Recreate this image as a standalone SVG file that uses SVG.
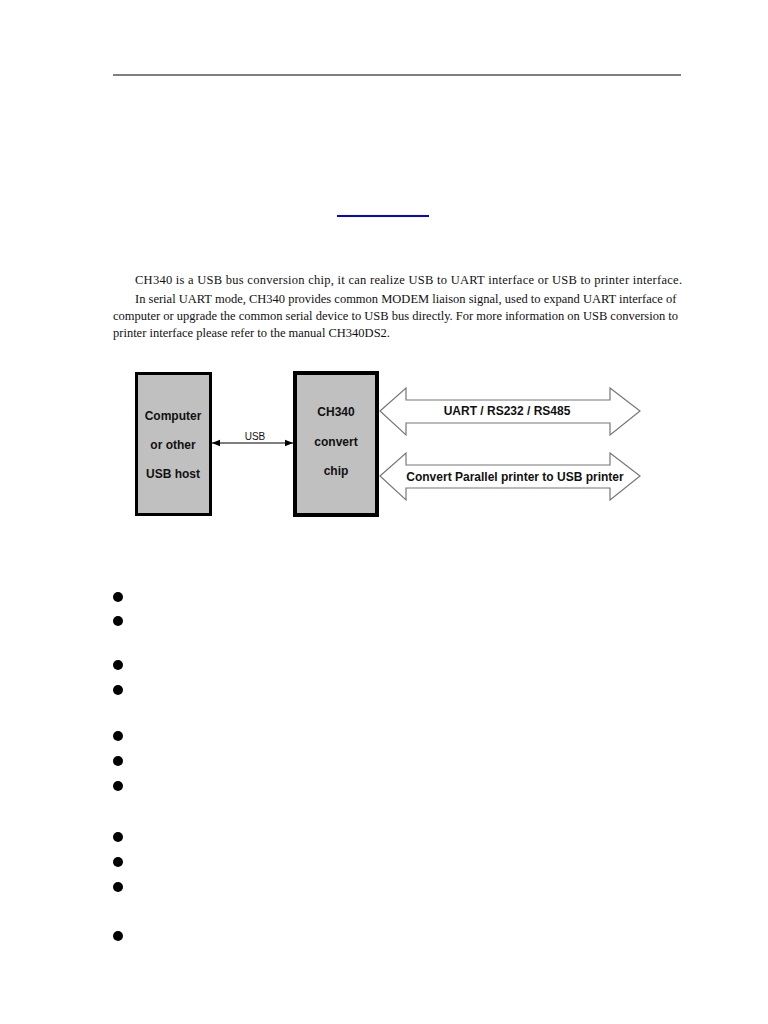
<svg xmlns="http://www.w3.org/2000/svg" width="768" height="1024" viewBox="0 0 768 1024">
<style>
.t{font-family:"Liberation Serif",serif;font-size:12.5px;fill:#111}
.b{font-family:"Liberation Sans",Arial,sans-serif;font-weight:bold;font-size:12px;fill:#111;text-anchor:middle}
.box{fill:#c0c0c0;stroke:#000}
.arr{fill:#fff;stroke:#777;stroke-width:1.2}
</style>
<defs>
<marker id="ah" viewBox="0 0 10 10" refX="10" refY="5" markerWidth="7" markerHeight="7" orient="auto-start-reverse"><path d="M0,1L10,5L0,9z" fill="#000"/></marker>
</defs>
<rect width="768" height="1024" fill="#fff"/>
<line x1="113" y1="75" x2="681" y2="75" stroke="#000" stroke-width="1"/>
<line x1="337" y1="216" x2="429" y2="216" stroke="#00f" stroke-width="2"/>
<text class="t" x="135" y="284" textLength="547" lengthAdjust="spacing">CH340 is a USB bus conversion chip, it can realize USB to UART interface or USB to printer interface.</text>
<text class="t" x="135" y="303">In serial UART mode, CH340 provides common MODEM liaison signal, used to expand UART interface of</text>
<text class="t" x="113" y="320">computer or upgrade the common serial device to USB bus directly. For more information on USB conversion to</text>
<text class="t" x="113" y="337">printer interface please refer to the manual CH340DS2.</text>
<g id="host"><rect class="box" x="136.5" y="373.5" width="74" height="141" stroke-width="3"/>
<text class="b" x="173" y="420">Computer</text><text class="b" x="173" y="449">or other</text><text class="b" x="173" y="478">USB host</text></g>
<g id="chip"><rect class="box" x="295" y="373" width="82" height="142" stroke-width="4"/>
<text class="b" x="336" y="416">CH340</text><text class="b" x="336" y="446">convert</text><text class="b" x="336" y="475">chip</text></g>
<g id="uart"><path class="arr" d="M380,411L406,388L406,400L610,400L610,388L640,411L610,435L610,423L406,423L406,435Z"/>
<text class="b" x="507" y="415">UART / RS232 / RS485</text></g>
<g id="printer"><path class="arr" d="M380,476L406,453L406,465L610,465L610,453L640,476L610,500L610,488L406,488L406,500Z"/>
<text class="b" x="515" y="481">Convert Parallel printer to USB printer</text></g>
<g id="connectors"><line x1="212" y1="443" x2="293" y2="443" stroke="#000" stroke-width="1.2" marker-start="url(#ah)" marker-end="url(#ah)"/>
<text x="255" y="440" font-family="Liberation Sans,sans-serif" font-size="10" text-anchor="middle" fill="#111">USB</text></g>
<g fill="#000">
<circle cx="118" cy="597" r="5"/><circle cx="118" cy="621" r="5"/><circle cx="118" cy="665" r="5"/><circle cx="118" cy="690" r="5"/><circle cx="118" cy="736" r="5"/><circle cx="118" cy="761" r="5"/><circle cx="118" cy="786" r="5"/><circle cx="118" cy="837" r="5"/><circle cx="118" cy="862" r="5"/><circle cx="118" cy="887" r="5"/><circle cx="118" cy="936" r="5"/>
</g>
</svg>
